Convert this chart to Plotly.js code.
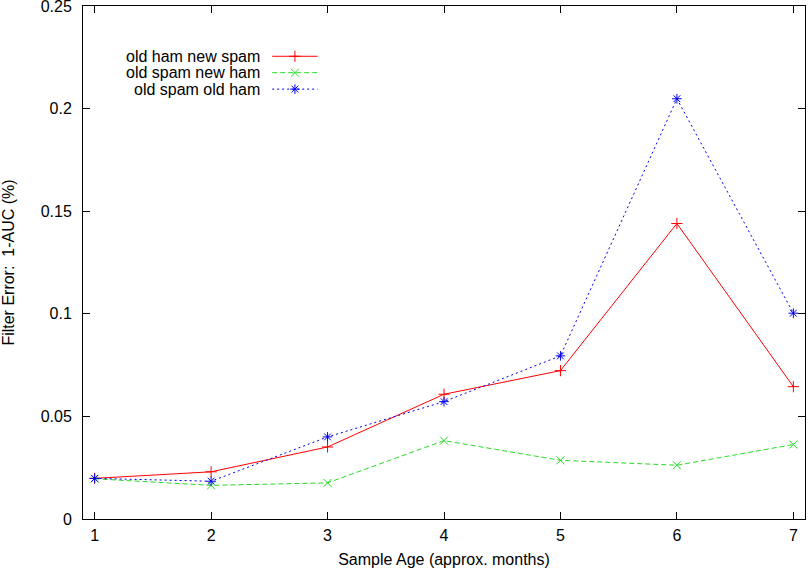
<!DOCTYPE html>
<html>
<head>
<meta charset="utf-8">
<script src="https://cdn.plot.ly/plotly-3.0.1.min.js"></script>
<style>
  body { margin: 0; background: #fff; }
  #chart { width: 809px; height: 569px; }
</style>
</head>
<body>
<div id="chart"></div>
<script>
// sample age in months
let ages = [1, 2, 3, 4, 5, 6, 7];

// filter error, 1-AUC (%)
let oldHamNewSpam = [0.0198, 0.0230, 0.0351, 0.0608, 0.0723, 0.1440, 0.0645];
let oldSpamNewHam = [0.0196, 0.0164, 0.0176, 0.0382, 0.0286, 0.0262, 0.0363];
let oldSpamOldHam = [0.0198, 0.0184, 0.0400, 0.0572, 0.0795, 0.2048, 0.1003];

let seriesNames = ['old ham new spam', 'old spam new ham', 'old spam old ham'];
let yTicks = [0, 0.05, 0.1, 0.15, 0.2, 0.25];

let font = 'Liberation Sans, Arial, sans-serif';
let colors = ['#ff0000', '#22dd22', '#0000ee'];
let dashes = ['solid', '5px,3px', '2px,3px'];
let symbols = ['cross-thin-open', 'x-thin-open', 'asterisk-open'];

// gnuplot style key: text on the left, sample on the right (hidden 0..1 axis)
let keyRows = [0.902, 0.870, 0.838];
let keyLine = [0.262, 0.325];
let keyTextX = 0.248;

let allY = [oldHamNewSpam, oldSpamNewHam, oldSpamOldHam];
let data = [];

for (let i = 0; i < allY.length; i++) {
  data.push({
    x: ages,
    y: allY[i],
    name: seriesNames[i],
    type: 'scatter',
    mode: 'lines+markers',
    line: {color: colors[i], width: 1, dash: dashes[i]},
    marker: {symbol: symbols[i], size: 8, color: colors[i], line: {color: colors[i], width: 1}},
    showlegend: false,
  });
}

// key samples
for (let i = 0; i < allY.length; i++) {
  data.push({
    x: keyLine,
    y: [keyRows[i], keyRows[i]],
    xaxis: 'x2', yaxis: 'y2',
    type: 'scatter',
    mode: 'lines',
    line: {color: colors[i], width: 1, dash: dashes[i]},
    hoverinfo: 'skip',
    showlegend: false,
  });
  data.push({
    x: [(keyLine[0] + keyLine[1]) / 2],
    y: [keyRows[i]],
    xaxis: 'x2', yaxis: 'y2',
    type: 'scatter',
    mode: 'markers',
    marker: {symbol: symbols[i], size: 8, color: colors[i], line: {color: colors[i], width: 1}},
    hoverinfo: 'skip',
    showlegend: false,
  });
}

let annotations = [];
for (let i = 0; i < seriesNames.length; i++) {
  annotations.push({
    text: seriesNames[i],
    xref: 'paper', yref: 'paper',
    x: keyTextX, y: keyRows[i],
    xanchor: 'right', yanchor: 'middle',
    showarrow: false,
    font: {family: font, size: 16, color: '#000'},
  });
}

let layout = {
  width: 809,
  height: 569,
  margin: {l: 83, r: 4, t: 6, b: 50},
  paper_bgcolor: '#fff',
  plot_bgcolor: '#fff',
  font: {family: font, size: 16, color: '#000'},
  showlegend: false,
  xaxis: {
    range: [0.9, 7.1],
    tickvals: ages,
    ticks: 'inside',
    ticklen: 7,
    tickcolor: '#000',
    showline: true,
    linecolor: '#000',
    linewidth: 1,
    mirror: 'ticks',
    showgrid: false,
    zeroline: false,
    ticklabelstandoff: 2,
    title: {text: 'Sample Age (approx. months)', font: {size: 16}, standoff: 10},
  },
  yaxis: {
    range: [0, 0.25],
    tickvals: yTicks,
    ticktext: yTicks.map(String),
    ticks: 'inside',
    ticklen: 7,
    tickcolor: '#000',
    showline: true,
    linecolor: '#000',
    linewidth: 1,
    mirror: 'ticks',
    showgrid: false,
    zeroline: false,
    ticklabelstandoff: 7,
    ticklabeloverflow: 'allow',
    title: {text: 'Filter Error:  1-AUC (%)', font: {size: 16}, standoff: 22},
  },
  xaxis2: {overlaying: 'x', range: [0, 1], visible: false},
  yaxis2: {overlaying: 'y', range: [0, 1], visible: false},
  annotations: annotations,
};

Plotly.newPlot('chart', data, layout, {displayModeBar: false, staticPlot: true});
</script>
</body>
</html>
